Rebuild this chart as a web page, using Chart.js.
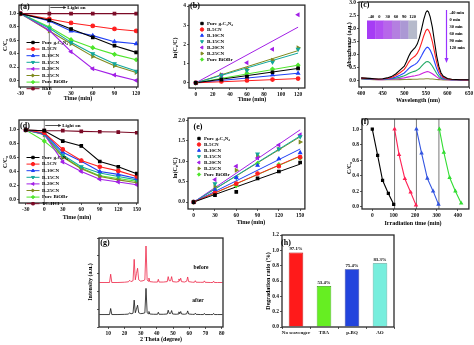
<!DOCTYPE html>
<html><head><meta charset="utf-8">
<script src="https://cdn.jsdelivr.net/npm/chart.js@4.4.0/dist/chart.umd.min.js"></script>
<style>
html,body{margin:0;padding:0;background:#fff;width:474px;height:345px;overflow:hidden;position:relative}
canvas{position:absolute}
</style></head><body>
<script>
// ---------------- DATA ----------------
const seriesLabels = ['Pure g-C₃N₄','B-5CN','B-10CN','B-15CN','B-20CN','B-25CN','Pure BiOBr'];

// (a) RhB degradation, C/C0
const tA = [-40,0,30,60,90,120];
const aXTicks = [-40,0,30,60,90,120];
const aXLabels = ['-30','0','30','60','90','120'];
const aSeries = [
  [1.0,0.90,0.77,0.645,0.52,0.42],
  [1.0,0.92,0.86,0.815,0.77,0.74],
  [1.0,0.89,0.74,0.67,0.58,0.55],
  [1.0,0.78,0.57,0.40,0.25,0.14],
  [1.0,0.75,0.43,0.175,0.08,0.0],
  [1.0,0.74,0.55,0.36,0.22,0.12],
  [1.0,0.80,0.61,0.49,0.39,0.31]
];
const aRhB = [1.0,1.0,1.0,1.0,1.0,1.0];

// (b) ln(C0/C) for RhB
const tB = [0,30,60,90,120];
const bSeries = [
  [0,0.17,0.33,0.55,0.75],
  [0,0.07,0.12,0.17,0.22],
  [0,0.15,0.28,0.42,0.50],
  [0,0.40,0.65,1.08,1.75],
  [0,0.40,1.05,1.75,3.55],
  [0,0.42,0.70,1.17,1.83],
  [0,0.25,0.50,0.72,0.92]
];
const bFitEnd = [0.75,0.22,0.50,1.55,2.90,1.68,0.92];
const bFitT = [0,120];

// (c) absorption spectra
const wl = [400,410,420,430,440,450,460,470,480,490,500,505,510,515,520,525,530,535,540,545,550,553,556,560,565,570,575,580,585,590,600,610,620,630,640,650];
const cLabels = ['-40 min','0 min','30 min','60 min','90 min','120 min'];
const cSeries = [
  [0.10,0.09,0.08,0.07,0.06,0.07,0.10,0.15,0.25,0.40,0.55,0.72,0.92,1.08,1.18,1.26,1.40,1.64,1.98,2.34,2.62,2.68,2.64,2.45,2.05,1.50,0.95,0.55,0.30,0.17,0.08,0.05,0.04,0.03,0.03,0.03],
  [0.09,0.08,0.07,0.06,0.05,0.06,0.08,0.12,0.19,0.30,0.43,0.55,0.70,0.81,0.88,0.94,1.04,1.21,1.45,1.71,1.92,1.97,1.94,1.80,1.50,1.10,0.70,0.40,0.22,0.12,0.06,0.04,0.03,0.03,0.02,0.02],
  [0.08,0.07,0.06,0.05,0.04,0.05,0.06,0.09,0.13,0.20,0.29,0.37,0.46,0.53,0.58,0.62,0.69,0.80,0.95,1.11,1.24,1.28,1.26,1.17,0.98,0.72,0.46,0.27,0.15,0.09,0.05,0.03,0.03,0.02,0.02,0.02],
  [0.07,0.06,0.05,0.04,0.04,0.04,0.05,0.07,0.09,0.13,0.18,0.22,0.27,0.31,0.34,0.36,0.40,0.46,0.55,0.64,0.71,0.73,0.72,0.67,0.56,0.41,0.27,0.16,0.09,0.06,0.04,0.03,0.02,0.02,0.02,0.02],
  [0.07,0.06,0.05,0.04,0.03,0.03,0.04,0.05,0.06,0.08,0.10,0.12,0.14,0.155,0.17,0.18,0.20,0.22,0.26,0.30,0.33,0.34,0.335,0.31,0.26,0.20,0.14,0.09,0.06,0.04,0.03,0.02,0.02,0.02,0.02,0.02],
  [0.06,0.05,0.04,0.03,0.03,0.03,0.03,0.03,0.03,0.035,0.04,0.04,0.045,0.045,0.05,0.05,0.05,0.055,0.06,0.06,0.065,0.065,0.065,0.06,0.055,0.05,0.04,0.035,0.03,0.025,0.02,0.02,0.02,0.02,0.02,0.02]
];
const cInsetLabels = ['-40','0','30','60','90','120'];

// (d) TC-HCl degradation
const tD = [-30,0,30,60,90,120,150];
const dSeries = [
  [1.0,0.99,0.84,0.77,0.545,0.47,0.37],
  [1.0,0.96,0.72,0.56,0.47,0.41,0.33],
  [1.0,0.95,0.68,0.55,0.40,0.36,0.30],
  [1.0,0.94,0.64,0.47,0.38,0.33,0.28],
  [1.0,0.94,0.54,0.40,0.29,0.25,0.21],
  [1.0,0.93,0.61,0.44,0.33,0.28,0.24],
  [1.0,0.84,0.62,0.45,0.34,0.30,0.26]
];
const dTC = [1.0,0.99,0.99,0.98,0.975,0.97,0.96];

// (e) ln(C0/C) for TC-HCl
const tE = [0,30,60,90,120,150];
const eSeries = [
  [0,0.17,0.25,0.58,0.75,0.97],
  [0,0.22,0.45,0.70,0.88,1.10],
  [0,0.30,0.60,0.90,1.06,1.21],
  [0,0.45,0.60,1.18,1.30,1.60],
  [0,0.55,0.88,1.08,1.40,1.65],
  [0,0.38,0.78,1.12,1.30,1.47],
  [0,0.30,0.40,0.95,0.92,1.08]
];
const eFitEnd = [0.93,1.13,1.30,1.62,1.77,1.60,1.12];
const eFitT = [0,150];

// (f) cycling runs
const fX = [[0,25,48,75,100],[104,125,152,179,204],[206,230,257,284,309],[313,334,361,388,415]];
const fY = [[1.0,0.66,0.34,0.17,0.03],[1.0,0.67,0.36,0.185,0.02],[1.0,0.69,0.365,0.20,0.03],[1.0,0.70,0.375,0.20,0.045]];
const fBounds = [104,206,311];

// (g) XRD patterns
const gTheta = [4.5,8,10.8,11.5,12.2,16,20,22.5,23.2,24,25.3,26.0,26.7,27.4,28.1,28.8,30,31.5,32.6,33.3,34.0,34.6,35.1,35.6,38,40.4,40.9,41.4,44,46.4,47.0,47.6,48.5,49.1,49.7,52,53.1,53.6,54.1,54.7,55.2,57,58.4,59.0,59.6,62,63.2,63.7,64.2,67,68.8,69.3,69.8,73,74.5,75,75.5,77.5,80.5];
const gBefore = [50,50,50,59.3,50,50,50.3,50.8,52.5,51,52,76,53,60,66,53,51.5,52,53,91,53,51.5,55,51,50.5,50.5,53.6,50.5,50.5,51,56.6,52,52,56.6,51,50.5,51,54,52,54.8,51,50.5,51.5,56.2,51,50.3,50.3,52,50.3,50.2,50.2,51.8,50.2,50,50,51.5,50,50,50];
const gAfter = [14,14,14,20.8,14,14,14.2,14.5,16,14.8,15.5,30.2,16,20,24.5,16,15,15.3,16,43.4,16,15,17.4,14.6,14.3,14.3,16.6,14.3,14.3,14.6,18.9,15.3,15.3,18.5,14.6,14.3,14.6,17,15,17.4,14.6,14.3,14.8,18.1,14.6,14.2,14.2,15.5,14.2,14,14,15.3,14,14,14,15.3,14,14,14];

// (h) scavenger test
const hCats = ['No scavenger','TBA','p-BQ','AO'];
const hVals = [0.971,0.534,0.754,0.833];

// ---------------- STYLE ----------------
const FONT = '"Liberation Serif","DejaVu Serif",serif';
const F = (s) => 'bold ' + s + 'px ' + FONT;
const SER_COLORS = ['#000000','#ff1f1f','#1f3ff5','#14a89c','#a21fe6','#7f8a1e','#4ee62b'];
const SER_SHAPES = ['rect','circle','triangle','triangle','triangle','triangle','rectRot'];
const SER_ROT = [0,0,0,180,-90,90,0];
const REF_COLOR = '#7b0a26';
const C_COLORS = ['#000000','#ff2020','#2a46ff','#22aa66','#cc22dd','#8a8a3a'];
const F_COLORS = ['#000000','#ff2255','#3355e0','#33dd33'];
const F_SHAPES = ['rect','triangle','triangle','triangle'];
const INSET_COLORS = ['#a63cf5','#b14ff2','#b766ea','#b47fe0','#ab98d4','#b6bacb'];
const H_COLORS = ['#ff1a1a','#66ee22','#2244dd','#77eedd'];
const H_BORDERS = ['#aa0000','#339911','#112288','#339988'];

Chart.defaults.font.family = FONT;

const xy = (xs, ys) => xs.map((x, i) => ({x: x, y: ys[i]}));

function addCanvas(x, y, w, h) {
  const c = document.createElement('canvas');
  c.width = w; c.height = h;
  c.style.left = x + 'px'; c.style.top = y + 'px';
  c.style.width = w + 'px'; c.style.height = h + 'px';
  document.body.appendChild(c);
  return c;
}

function text(ctx, s, x, y, o) {
  o = o || {};
  ctx.save();
  ctx.font = o.font || F(5.5);
  ctx.fillStyle = o.color || '#000';
  ctx.textAlign = o.align || 'center';
  ctx.textBaseline = 'middle';
  ctx.translate(x, y);
  if (o.rot) ctx.rotate(o.rot);
  ctx.fillText(s, 0, 0);
  ctx.restore();
}

function legend(ctx, items, x, y, dy, o) {
  items.forEach((it, i) => {
    const yy = y + i * dy;
    ctx.save();
    ctx.strokeStyle = it.c; ctx.fillStyle = it.c; ctx.lineWidth = 1;
    if (o.line) { ctx.beginPath(); ctx.moveTo(x - 6.5, yy); ctx.lineTo(x + 6.5, yy); ctx.stroke(); }
    Chart.helpers.drawPoint(ctx, {pointStyle: it.p, rotation: it.r || 0, radius: o.r || 1.7, borderWidth: 0.8}, x, yy);
    ctx.restore();
    text(ctx, it.label, x + (o.gap || 9), yy, {font: F(o.fs || 5), align: 'left'});
  });
}

function mkScale(s, axis, size) {
  const cfg = {
    type: s.type || 'linear',
    position: axis === 'x' ? 'bottom' : 'left',
    afterFit(sc) {
      if (axis === 'x') sc.height = size; else sc.width = size;
      sc.paddingLeft = 0; sc.paddingRight = 0; sc.paddingTop = 0; sc.paddingBottom = 0;
    },
    ticks: {
      display: s.show !== false,
      color: '#111',
      font: {family: FONT, size: s.fs || 5.5, weight: 'bold'},
      padding: s.pad != null ? s.pad : 1,
      maxRotation: 0, minRotation: 0, autoSkip: false,
      callback: function (v, i) {
        if (s.type === 'category') return this.getLabelForValue(v);
        if (s.labels) return s.labels[i];
        return s.dec != null ? Number(v).toFixed(s.dec) : String(v);
      }
    },
    grid: {display: true, drawOnChartArea: false, drawTicks: true, tickLength: 2, color: '#333', lineWidth: 0.8},
    border: {display: false}
  };
  if (s.min != null) cfg.min = s.min;
  if (s.max != null) cfg.max = s.max;
  if (s.ticks) cfg.afterBuildTicks = (sc) => { sc.ticks = s.ticks.map(v => ({value: v})); };
  return cfg;
}

function makePanel(P) {
  const [cx, cy, cw, ch] = P.box;
  const [l, t, r, b] = P.area;
  const c = addCanvas(cx, cy, cw, ch);
  const deco = {
    id: 'deco',
    beforeDatasetsDraw(chart) {
      if (!P.under) return;
      const ctx = chart.ctx; ctx.save(); ctx.translate(-cx, -cy);
      P.under(ctx, chart, v => chart.scales.x.getPixelForValue(v) + cx, v => chart.scales.y.getPixelForValue(v) + cy, chart.chartArea, cx, cy);
      ctx.restore();
    },
    afterDraw(chart) {
      const ctx = chart.ctx, a = chart.chartArea;
      ctx.save();
      ctx.strokeStyle = '#2a2a2a'; ctx.lineWidth = 1.3;
      ctx.strokeRect(a.left, a.top, a.right - a.left, a.bottom - a.top);
      ctx.restore();
      ctx.save(); ctx.translate(-cx, -cy);
      if (P.tag) text(ctx, P.tag[0], P.tag[1], P.tag[2], {font: F(8)});
      if (P.xt) text(ctx, P.xt[0], P.xt[1], P.xt[2], {font: F(6)});
      if (P.yt) text(ctx, P.yt[0], P.yt[1], P.yt[2], {font: F(6), rot: -Math.PI / 2});
      if (P.over) P.over(ctx, chart, v => chart.scales.x.getPixelForValue(v) + cx, v => chart.scales.y.getPixelForValue(v) + cy, chart.chartArea, cx, cy);
      ctx.restore();
    }
  };
  new Chart(c, {
    type: P.type || 'line',
    data: {labels: P.labels, datasets: P.datasets},
    options: {
      responsive: false, animation: false, devicePixelRatio: 1,
      layout: {padding: {left: 0, top: t - cy, right: cx + cw - r, bottom: 0}},
      plugins: {legend: {display: false}, tooltip: {enabled: false}},
      elements: {line: {tension: 0}},
      scales: {x: mkScale(P.x, 'x', cy + ch - b), y: mkScale(P.y, 'y', l - cx)}
    },
    plugins: [deco]
  });
}

function lineDs(label, data, color, shape, rot, extra) {
  return Object.assign({label: label, data: data, borderColor: color, backgroundColor: color,
    pointStyle: shape, pointRotation: rot || 0, pointRadius: 1.8, borderWidth: 1.1}, extra || {});
}

const serItems = (extraLabel) => {
  const it = seriesLabels.map((s, i) => ({label: s, c: SER_COLORS[i], p: SER_SHAPES[i], r: SER_ROT[i]}));
  if (extraLabel) it.push({label: extraLabel, c: REF_COLOR, p: 'rect'});
  return it;
};

function lightOn(ctx, X, a, cy, yArrow) {
  const x0 = X(0);
  ctx.save();
  ctx.strokeStyle = '#666'; ctx.lineWidth = 0.8;
  ctx.beginPath(); ctx.moveTo(x0, a.top + cy); ctx.lineTo(x0, a.bottom + cy); ctx.stroke();
  ctx.strokeStyle = '#222';
  ctx.beginPath(); ctx.moveTo(x0 + 1, yArrow); ctx.lineTo(x0 + 16, yArrow); ctx.stroke();
  ctx.fillStyle = '#222';
  ctx.beginPath(); ctx.moveTo(x0 + 17, yArrow); ctx.lineTo(x0 + 14, yArrow - 1.5); ctx.lineTo(x0 + 14, yArrow + 1.5); ctx.closePath(); ctx.fill();
  ctx.restore();
  text(ctx, 'Light on', x0 + 18, yArrow, {font: F(5), align: 'left'});
}

// ---------------- (a) ----------------
makePanel({
  box: [0, 0, 155, 112], area: [19, 3, 138, 87],
  x: {min: -41.9, max: 122.5, ticks: aXTicks, labels: aXLabels},
  y: {min: -0.098, max: 1.127, ticks: [0, 0.2, 0.4, 0.6, 0.8, 1.0], dec: 1},
  datasets: aSeries.map((ys, i) => lineDs(seriesLabels[i], xy(tA, ys), SER_COLORS[i], SER_SHAPES[i], SER_ROT[i]))
    .concat([lineDs('RhB', xy(tA, aRhB), REF_COLOR, 'rect', 0)]),
  tag: ['(a)', 25, 7], xt: ['Time (min)', 78, 98], yt: ['C/C₀', 5, 45],
  under: (ctx, ch, X, Y, a, cx, cy) => lightOn(ctx, X, a, cy, 7.5),
  over: (ctx) => legend(ctx, serItems('RhB'), 33, 42.5, 6.6, {line: true})
});

// ---------------- (b) ----------------
makePanel({
  box: [150, 0, 160, 112], area: [189, 2, 306, 88],
  x: {min: -8, max: 128, ticks: [0, 20, 40, 60, 80, 100, 120]},
  y: {min: -0.27, max: 4.05, ticks: [0, 1, 2, 3, 4]},
  datasets: bSeries.map((ys, i) => lineDs(seriesLabels[i], xy(tB, ys), SER_COLORS[i], SER_SHAPES[i], SER_ROT[i], {showLine: false}))
    .concat(bFitEnd.map((e, i) => lineDs('fit', xy(bFitT, [0, e]), SER_COLORS[i], 'circle', 0, {pointRadius: 0, borderWidth: 1}))),
  tag: ['(b)', 195, 6], xt: ['Time (min)', 252, 99], yt: ['ln(C₀/C)', 175, 48],
  over: (ctx) => legend(ctx, serItems(), 202, 23.5, 6.0, {line: false, gap: 5})
});

// ---------------- (c) ----------------
makePanel({
  box: [310, 0, 164, 112], area: [359, 2, 469, 87],
  x: {min: 395, max: 650, ticks: [400, 450, 500, 550, 600, 650]},
  y: {min: -0.25, max: 3.02, ticks: [0, 0.5, 1.0, 1.5, 2.0, 2.5, 3.0], dec: 1},
  datasets: cSeries.map((ys, i) => lineDs(cLabels[i], xy(wl, ys), C_COLORS[i], 'circle', 0, {pointRadius: 0, borderWidth: 1.1})),
  tag: ['(c)', 365, 5], xt: ['Wavelength (nm)', 418, 100], yt: ['Absorbance (a.u.)', 349, 45],
  over: (ctx) => {
    const x0 = 367, w = 8.3, y0 = 20.5, h = 18.5;
    INSET_COLORS.forEach((col, i) => { ctx.fillStyle = col; ctx.fillRect(x0 + i * w, y0, w + 0.3, h); });
    cInsetLabels.forEach((s, i) => text(ctx, s, x0 + (i + 0.5) * w, 16.5, {font: F(4.5)}));
    ctx.save();
    ctx.strokeStyle = '#9933ff'; ctx.fillStyle = '#9933ff'; ctx.lineWidth = 1.2;
    ctx.beginPath(); ctx.moveTo(446.5, 10); ctx.lineTo(446.5, 60); ctx.stroke();
    ctx.beginPath(); ctx.moveTo(446.5, 63); ctx.lineTo(444.5, 58); ctx.lineTo(448.5, 58); ctx.closePath(); ctx.fill();
    ctx.restore();
    cLabels.forEach((s, i) => text(ctx, s, 449.5, 13.3 + i * 7.0, {font: F(4.5), align: 'left'}));
  }
});

// ---------------- (d) ----------------
makePanel({
  box: [0, 112, 155, 113], area: [19, 120, 138, 203],
  x: {min: -41, max: 152, ticks: [-30, 0, 30, 60, 90, 120, 150]},
  y: {min: -0.053, max: 1.144, ticks: [0, 0.2, 0.4, 0.6, 0.8, 1.0], dec: 1},
  datasets: dSeries.map((ys, i) => lineDs(seriesLabels[i], xy(tD, ys), SER_COLORS[i], SER_SHAPES[i], SER_ROT[i]))
    .concat([lineDs('TC-HCl', xy(tD, dTC), REF_COLOR, 'rect', 0)]),
  tag: ['(d)', 25, 126], xt: ['Time (min)', 77, 217], yt: ['C/C₀', 5, 162],
  under: (ctx, ch, X, Y, a, cx, cy) => lightOn(ctx, X, a, cy, 125.5),
  over: (ctx) => legend(ctx, serItems('TC-HCl'), 33, 157.5, 6.6, {line: true})
});

// ---------------- (e) ----------------
makePanel({
  box: [150, 112, 160, 118], area: [188, 118, 306, 209],
  x: {min: -8, max: 156.7, ticks: [0, 30, 60, 90, 120, 150]},
  y: {min: -0.17, max: 2.06, ticks: [0, 0.5, 1.0, 1.5, 2.0], dec: 1},
  datasets: eSeries.map((ys, i) => lineDs(seriesLabels[i], xy(tE, ys), SER_COLORS[i], SER_SHAPES[i], SER_ROT[i], {showLine: false}))
    .concat(eFitEnd.map((e, i) => lineDs('fit', xy(eFitT, [0, e]), SER_COLORS[i], 'circle', 0, {pointRadius: 0, borderWidth: 1}))),
  tag: ['(e)', 198, 127], xt: ['Time (min)', 251, 222], yt: ['ln(C₀/C)', 175.5, 168],
  over: (ctx) => legend(ctx, serItems(), 199, 138.5, 6.0, {line: false, gap: 5})
});

// ---------------- (f) ----------------
makePanel({
  box: [310, 112, 164, 118], area: [362, 119, 473, 209],
  x: {min: -48, max: 451, ticks: [0, 100, 200, 300, 400]},
  y: {min: -0.03, max: 1.13, ticks: [0, 0.2, 0.4, 0.6, 0.8, 1.0], dec: 1},
  datasets: fX.map((xs, i) => lineDs('cycle ' + (i + 1), xy(xs, fY[i]), F_COLORS[i], F_SHAPES[i], 0, {pointRadius: 1.5})),
  tag: ['(f)', 365, 122], xt: ['Irradiation time (min)', 413, 223], yt: ['C/C₀', 349, 168],
  under: (ctx, ch, X, Y, a, cx, cy) => {
    ctx.save(); ctx.strokeStyle = '#777'; ctx.lineWidth = 1;
    fBounds.forEach(v => { ctx.beginPath(); ctx.moveTo(X(v), a.top + cy); ctx.lineTo(X(v), a.bottom + cy); ctx.stroke(); });
    ctx.restore();
  }
});

// ---------------- (g) ----------------
makePanel({
  box: [40, 230, 200, 115], area: [99, 238, 223, 327],
  x: {min: 4.3, max: 80.8, ticks: [10, 20, 30, 40, 50, 60, 70, 80]},
  y: {min: 0, max: 100, show: false, ticks: [0, 20, 40, 60, 80, 100]},
  datasets: [
    lineDs('before', xy(gTheta, gBefore), '#ee2244', 'circle', 0, {pointRadius: 0, borderWidth: 0.8}),
    lineDs('after', xy(gTheta, gAfter), '#111111', 'circle', 0, {pointRadius: 0, borderWidth: 0.8})
  ],
  tag: ['(g)', 105, 243], xt: ['2 Theta (degree)', 161, 339], yt: ['Intensity (a.u.)', 90, 282],
  over: (ctx) => { text(ctx, 'before', 201, 268, {font: F(5.5)}); text(ctx, 'after', 198, 301, {font: F(5.5)}); }
});

// ---------------- (h) ----------------
makePanel({
  type: 'bar', labels: hCats,
  box: [240, 230, 160, 115], area: [282, 235, 394, 327],
  x: {type: 'category', fs: 5},
  y: {min: 0, max: 1.2, ticks: [0, 0.2, 0.4, 0.6, 0.8, 1.0, 1.2], dec: 1},
  datasets: [{label: 'Degradation ratio', data: hVals, backgroundColor: H_COLORS, borderColor: H_BORDERS, borderWidth: 0.8, barPercentage: 0.52, categoryPercentage: 1}],
  tag: ['(h)', 286, 243], yt: ['Degradation ratio (%)', 268, 281],
  over: (ctx, chart, X, Y) => {
    const meta = chart.getDatasetMeta(0);
    meta.data.forEach((el, i) => text(ctx, (hVals[i] * 100).toFixed(1) + '%', el.x + 240, el.y + 230 - 3.5, {font: F(4.8)}));
  }
});
</script>
</body></html>
